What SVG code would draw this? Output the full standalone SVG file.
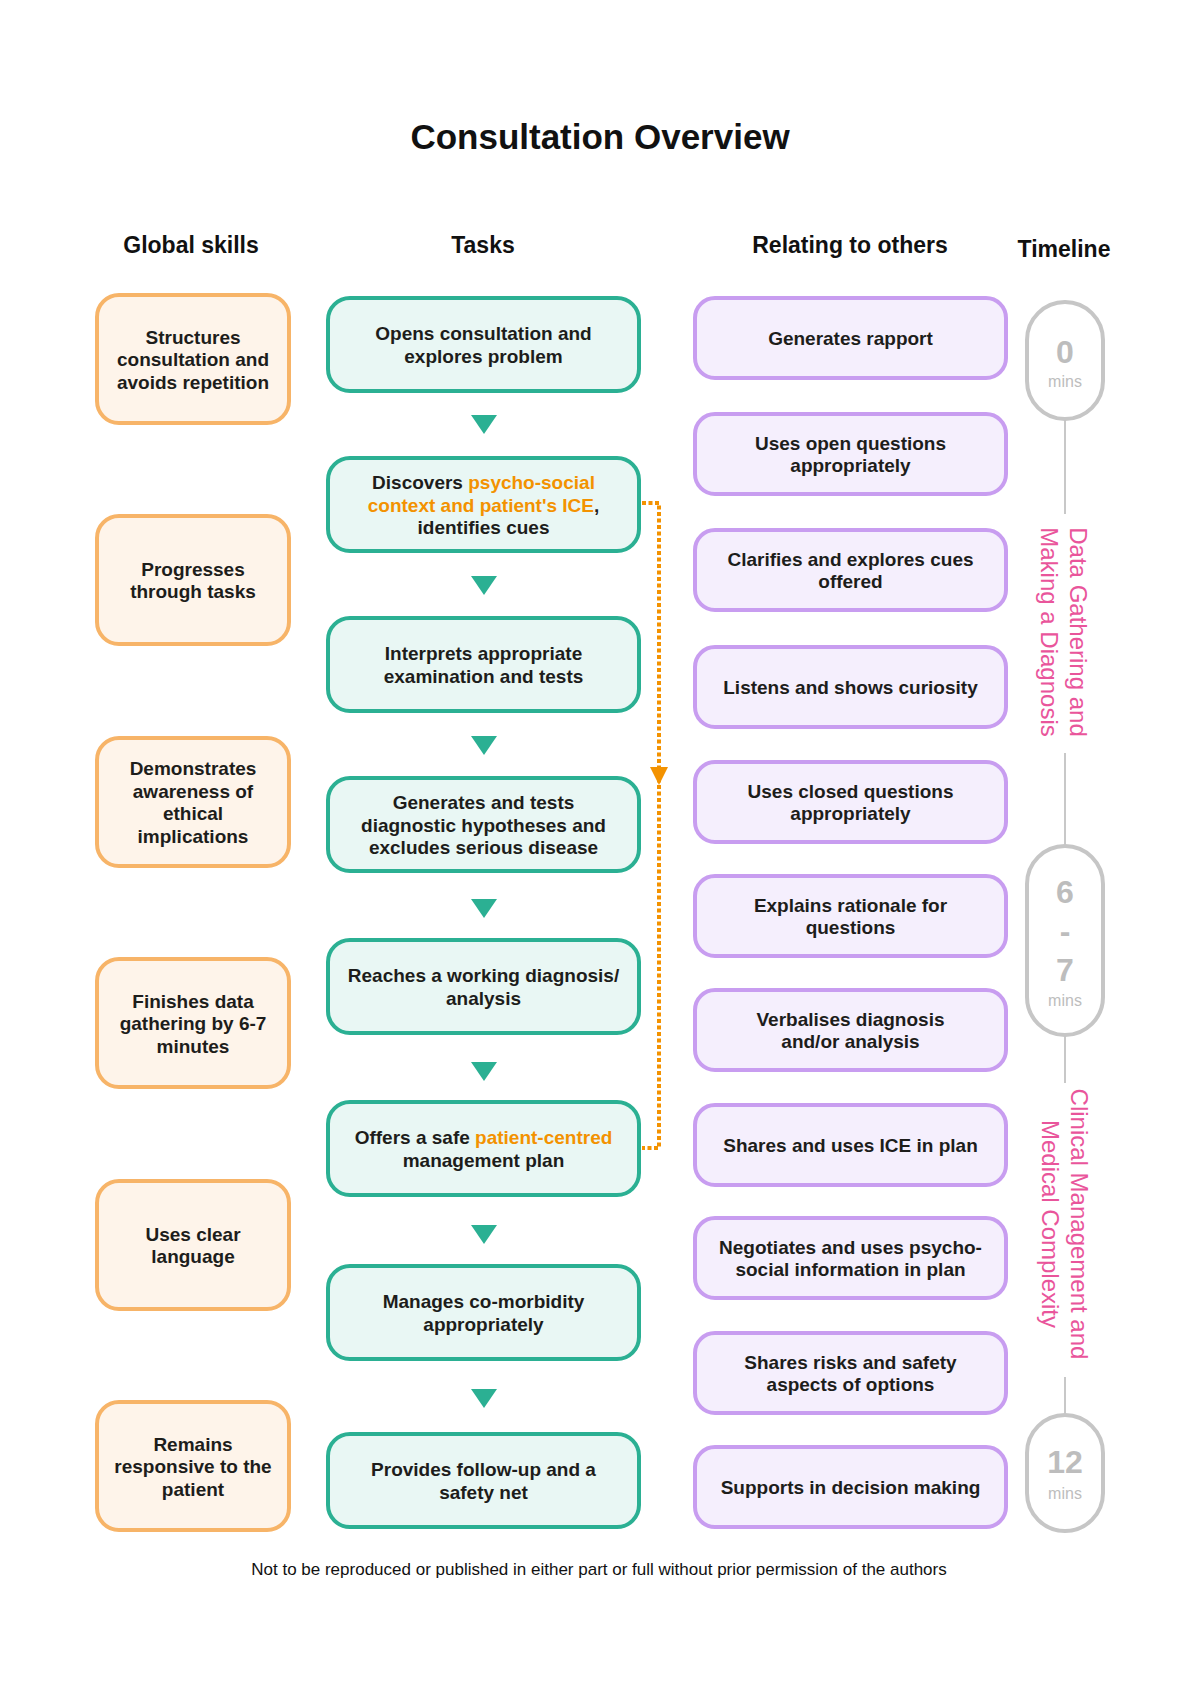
<svg xmlns="http://www.w3.org/2000/svg" width="1200" height="1696" viewBox="0 0 1200 1696">
<style>
text{font-family:"Liberation Sans",Arial,sans-serif;}
.title{font-size:35px;font-weight:bold;fill:#111;text-anchor:middle;}
.hdr{font-size:23px;font-weight:bold;fill:#111;text-anchor:middle;}
.t{font-size:19px;font-weight:bold;fill:#1d1d1b;text-anchor:middle;}
.hl{fill:#F39200;}
.ob{fill:#FEF4EA;stroke:#F7B468;stroke-width:4;}
.tb{fill:#E9F7F4;stroke:#2BB093;stroke-width:4;}
.pb{fill:#F5EFFD;stroke:#C89DF0;stroke-width:4;}
.tri{fill:#2BB093;}
.pill{fill:#fff;stroke:#C6C6C6;stroke-width:4;}
.num{font-size:32px;font-weight:bold;fill:#BDBDBD;text-anchor:middle;}
.mins{font-size:16px;fill:#BDBDBD;text-anchor:middle;}
.tl{stroke:#C8C8C8;stroke-width:2;fill:none;}
.pink{font-size:24px;fill:#E9559B;text-anchor:middle;}
.dot{fill:none;stroke:#F39200;stroke-width:4;stroke-dasharray:4 2.5;}
.foot{font-size:17px;fill:#111;text-anchor:middle;}
</style>
<rect width="1200" height="1696" fill="#fff"/>
<text class="title" x="600" y="149">Consultation Overview</text>
<text class="hdr" x="191" y="253">Global skills</text>
<text class="hdr" x="483" y="253">Tasks</text>
<text class="hdr" x="850" y="253">Relating to others</text>
<text class="hdr" x="1064" y="257">Timeline</text>

<g id="global-skills">
<g id="g1"><rect class="ob" x="97" y="295" width="192" height="128" rx="22"/><text class="t" x="193" y="343.5">Structures</text><text class="t" x="193" y="366">consultation and</text><text class="t" x="193" y="388.5">avoids repetition</text></g>
<g id="g2"><rect class="ob" x="97" y="516" width="192" height="128" rx="22"/><text class="t" x="193" y="575.75">Progresses</text><text class="t" x="193" y="598.25">through tasks</text></g>
<g id="g3"><rect class="ob" x="97" y="738" width="192" height="128" rx="22"/><text class="t" x="193" y="775.25">Demonstrates</text><text class="t" x="193" y="797.75">awareness of</text><text class="t" x="193" y="820.25">ethical</text><text class="t" x="193" y="842.75">implications</text></g>
<g id="g4"><rect class="ob" x="97" y="959" width="192" height="128" rx="22"/><text class="t" x="193" y="1007.5">Finishes data</text><text class="t" x="193" y="1030">gathering by 6-7</text><text class="t" x="193" y="1052.5">minutes</text></g>
<g id="g5"><rect class="ob" x="97" y="1181" width="192" height="128" rx="22"/><text class="t" x="193" y="1240.75">Uses clear</text><text class="t" x="193" y="1263.25">language</text></g>
<g id="g6"><rect class="ob" x="97" y="1402" width="192" height="128" rx="22"/><text class="t" x="193" y="1450.5">Remains</text><text class="t" x="193" y="1473">responsive to the</text><text class="t" x="193" y="1495.5">patient</text></g>
</g>

<g id="tasks">
<g id="k1"><rect class="tb" x="328" y="298" width="311" height="93" rx="22"/><text class="t" x="483.5" y="340.25">Opens consultation and</text><text class="t" x="483.5" y="362.75">explores problem</text></g>
<g id="k2"><rect class="tb" x="328" y="458" width="311" height="93" rx="22"/><text class="t" x="483.5" y="489">Discovers <tspan class="hl">psycho-social</tspan></text><text class="t" x="483.5" y="511.5"><tspan class="hl">context and patient's ICE</tspan>,</text><text class="t" x="483.5" y="534">identifies cues</text></g>
<g id="k3"><rect class="tb" x="328" y="618" width="311" height="93" rx="22"/><text class="t" x="483.5" y="660.25">Interprets appropriate</text><text class="t" x="483.5" y="682.75">examination and tests</text></g>
<g id="k4"><rect class="tb" x="328" y="778" width="311" height="93" rx="22"/><text class="t" x="483.5" y="809">Generates and tests</text><text class="t" x="483.5" y="831.5">diagnostic hypotheses and</text><text class="t" x="483.5" y="854">excludes serious disease</text></g>
<g id="k5"><rect class="tb" x="328" y="940" width="311" height="93" rx="22"/><text class="t" x="483.5" y="982.25">Reaches a working diagnosis/</text><text class="t" x="483.5" y="1004.75">analysis</text></g>
<g id="k6"><rect class="tb" x="328" y="1102" width="311" height="93" rx="22"/><text class="t" x="483.5" y="1144.25">Offers a safe <tspan class="hl">patient-centred</tspan></text><text class="t" x="483.5" y="1166.75">management plan</text></g>
<g id="k7"><rect class="tb" x="328" y="1266" width="311" height="93" rx="22"/><text class="t" x="483.5" y="1308.25">Manages co-morbidity</text><text class="t" x="483.5" y="1330.75">appropriately</text></g>
<g id="k8"><rect class="tb" x="328" y="1434" width="311" height="93" rx="22"/><text class="t" x="483.5" y="1476.25">Provides follow-up and a</text><text class="t" x="483.5" y="1498.75">safety net</text></g>
</g>

<g id="relating">
<g id="r1"><rect class="pb" x="695" y="298" width="311" height="80" rx="20"/><text class="t" x="850.5" y="345">Generates rapport</text></g>
<g id="r2"><rect class="pb" x="695" y="414" width="311" height="80" rx="20"/><text class="t" x="850.5" y="449.75">Uses open questions</text><text class="t" x="850.5" y="472.25">appropriately</text></g>
<g id="r3"><rect class="pb" x="695" y="530" width="311" height="80" rx="20"/><text class="t" x="850.5" y="565.75">Clarifies and explores cues</text><text class="t" x="850.5" y="588.25">offered</text></g>
<g id="r4"><rect class="pb" x="695" y="647" width="311" height="80" rx="20"/><text class="t" x="850.5" y="694">Listens and shows curiosity</text></g>
<g id="r5"><rect class="pb" x="695" y="762" width="311" height="80" rx="20"/><text class="t" x="850.5" y="797.75">Uses closed questions</text><text class="t" x="850.5" y="820.25">appropriately</text></g>
<g id="r6"><rect class="pb" x="695" y="876" width="311" height="80" rx="20"/><text class="t" x="850.5" y="911.75">Explains rationale for</text><text class="t" x="850.5" y="934.25">questions</text></g>
<g id="r7"><rect class="pb" x="695" y="990" width="311" height="80" rx="20"/><text class="t" x="850.5" y="1025.75">Verbalises diagnosis</text><text class="t" x="850.5" y="1048.25">and/or analysis</text></g>
<g id="r8"><rect class="pb" x="695" y="1105" width="311" height="80" rx="20"/><text class="t" x="850.5" y="1152">Shares and uses ICE in plan</text></g>
<g id="r9"><rect class="pb" x="695" y="1218" width="311" height="80" rx="20"/><text class="t" x="850.5" y="1253.75">Negotiates and uses psycho-</text><text class="t" x="850.5" y="1276.25">social information in plan</text></g>
<g id="r10"><rect class="pb" x="695" y="1333" width="311" height="80" rx="20"/><text class="t" x="850.5" y="1368.75">Shares risks and safety</text><text class="t" x="850.5" y="1391.25">aspects of options</text></g>
<g id="r11"><rect class="pb" x="695" y="1447" width="311" height="80" rx="20"/><text class="t" x="850.5" y="1494">Supports in decision making</text></g>
</g>

<g id="timeline">
<line class="tl" x1="1065" y1="419" x2="1065" y2="514"/>
<line class="tl" x1="1065" y1="753" x2="1065" y2="846"/>
<line class="tl" x1="1065" y1="1035" x2="1065" y2="1083"/>
<line class="tl" x1="1065" y1="1377" x2="1065" y2="1415"/>
<g id="t0"><rect class="pill" x="1027" y="302" width="76" height="117" rx="38"/><text class="num" x="1065" y="363">0</text><text class="mins" x="1065" y="387">mins</text></g>
<g id="t67"><rect class="pill" x="1027" y="846" width="76" height="189" rx="38"/><text class="num" x="1065" y="903">6</text><text class="num" x="1065" y="942">-</text><text class="num" x="1065" y="981">7</text><text class="mins" x="1065" y="1006">mins</text></g>
<g id="t12"><rect class="pill" x="1027" y="1415" width="76" height="116" rx="38"/><text class="num" x="1065" y="1473">12</text><text class="mins" x="1065" y="1499">mins</text></g>
<g id="phase1"><text class="pink" transform="translate(1070,632) rotate(90)">Data Gathering and</text><text class="pink" transform="translate(1041,632) rotate(90)">Making a Diagnosis</text></g>
<g id="phase2"><text class="pink" transform="translate(1071,1224) rotate(90)">Clinical Management and</text><text class="pink" transform="translate(1042,1224) rotate(90)">Medical Complexity</text></g>
</g>

<g id="connectors">
<polygon class="tri" points="471,415 497,415 484,434"/>
<polygon class="tri" points="471,576 497,576 484,595"/>
<polygon class="tri" points="471,736 497,736 484,755"/>
<polygon class="tri" points="471,899 497,899 484,918"/>
<polygon class="tri" points="471,1062 497,1062 484,1081"/>
<polygon class="tri" points="471,1225 497,1225 484,1244"/>
<polygon class="tri" points="471,1389 497,1389 484,1408"/>
<polyline class="dot" points="642,503 659,503 659,1148 642,1148"/>
<polygon fill="#F39200" points="650,767 668,767 659,785"/>
</g>

<text class="foot" x="599" y="1575">Not to be reproduced or published in either part or full without prior permission of the authors</text>
</svg>
